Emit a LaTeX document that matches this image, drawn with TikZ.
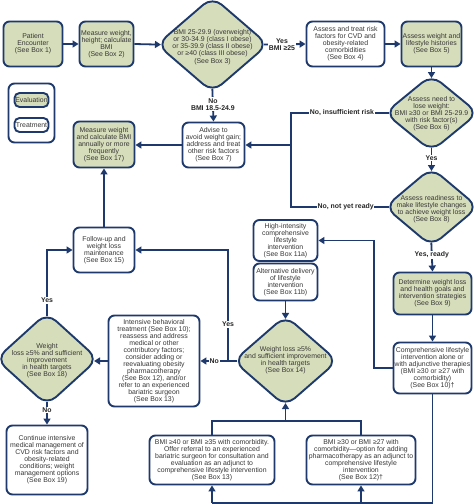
\documentclass[tikz,border=0pt]{standalone}
\usepackage{fontspec}
\setmainfont{Liberation Sans}
\usetikzlibrary{shapes.geometric,arrows.meta,backgrounds}
\definecolor{navy}{RGB}{30,58,108}
\definecolor{boxgreen}{RGB}{214,221,186}
\definecolor{txt}{RGB}{55,55,55}
\tikzset{
  boxbase/.style={draw=navy, line width=1.9pt, text=txt, align=center, inner sep=0pt,
     font=\fontsize{6.9}{7}\selectfont},
  evalbox/.style={boxbase, rectangle, rounded corners=6pt, fill=boxgreen},
  treatbox/.style={boxbase, rectangle, rounded corners=6pt, fill=white},
  decis/.style={boxbase, diamond, rounded corners=12pt, fill=boxgreen},
  dtext/.style={text=txt, align=center, inner sep=0pt, font=\fontsize{6.9}{7}\selectfont},
  conn/.style={draw=navy, line width=1.8pt},
  arr/.style={conn, -{Triangle[width=7pt,length=6pt]}},
  lbl/.style={fill=white, text=black!85, font=\bfseries\fontsize{6.9}{7}\selectfont, inner sep=0.8pt, align=center},
  inS/.style={shorten >=-5.2pt},
  inT/.style={shorten >=-4.5pt},
  outS/.style={shorten <=-5.2pt},
  outT/.style={shorten <=-4.5pt},
}
\begin{document}
\begin{tikzpicture}[x=1pt,y=-1pt]
\useasboundingbox (0,0) rectangle (474,504);
% top row
\node[evalbox, minimum width=59pt, minimum height=45pt] (b1) at (33,44) {Patient\\Encounter\\(See Box 1)};
\node[evalbox, minimum width=54pt, minimum height=45pt] (b2) at (106.5,44) {Measure weight,\\height; calculate\\BMI\\(See Box 2)};
\node[decis, minimum width=111.6pt, minimum height=96.2pt] (d3) at (212.5,44.5) {};
\node[dtext] (d3t) at (212.5,47) {BMI 25-29.9 (overweight)\\or 30-34.9 (class I obese)\\or 35-39.9 (class II obese)\\or ≥40 (class III obese)\\[1.5pt](See Box 3)};
\node[treatbox, minimum width=78pt, minimum height=45pt] (b4) at (345.5,44) {Assess and treat risk\\factors for CVD and\\obesity-related\\comorbidities\\(See Box 4)};
\node[evalbox, minimum width=60pt, minimum height=45pt] (b5) at (431.5,44) {Assess weight and\\lifestyle histories\\(See Box 5)};
% legend
\node[treatbox, minimum width=46pt, minimum height=59pt] (leg) at (31.5,113) {};
\node[evalbox, rounded corners=5pt, minimum width=34pt, minimum height=14pt] (lev) at (31.5,100) {Evaluation};
\node[treatbox, rounded corners=5pt, minimum width=34pt, minimum height=14pt] (ltr) at (31.5,125) {Treatment};
% second row
\node[evalbox, minimum width=61pt, minimum height=46pt] (b17) at (104,144.5) {Measure weight\\and calculate BMI\\annually or more\\frequently\\(See Box 17)};
\node[treatbox, minimum width=62pt, minimum height=45pt] (b7) at (213.5,145) {Advise to\\avoid weight gain;\\address and treat\\other risk factors\\(See Box 7)};
\node[decis, minimum width=93.8pt, minimum height=77pt] (d6) at (431.5,113) {};
\node[dtext] (d6t) at (431.5,114) {Assess need to\\lose weight:\\BMI ≥30 or BMI 25-29.9\\with risk factor(s)\\(See Box 6)};
\node[decis, minimum width=93.8pt, minimum height=79pt] (d8) at (431.5,207) {};
\node[dtext] (d8t) at (431.5,209) {Assess readiness to\\make lifestyle changes\\to achieve weight loss\\(See Box 8)};
% middle
\node[treatbox, minimum width=61pt, minimum height=45pt] (b15) at (104,250) {Follow-up and\\weight loss\\maintenance\\(See Box 15)};
\node[treatbox, minimum width=64pt, minimum height=41pt] (b11a) at (285.5,240.5) {High-intensity\\comprehensive\\lifestyle\\intervention\\(See Box 11a)};
\node[treatbox, minimum width=64pt, minimum height=37pt] (b11b) at (285.5,282) {Alternative delivery\\of lifestyle\\intervention\\(See Box 11b)};
\node[evalbox, minimum width=78pt, minimum height=42pt] (b9) at (432.5,293.5) {Determine weight loss\\and health goals and\\intervention strategies\\(See Box 9)};
\node[decis, minimum width=102.6pt, minimum height=93.2pt] (d18) at (47,359) {};
\node[dtext] (d18t) at (47,361) {Weight\\loss ≥5\% and sufficient\\improvement\\in health targets\\(See Box 18)};
\node[treatbox, minimum width=91pt, minimum height=91pt] (b10) at (154,361) {Intensive behavioral\\treatment (See Box 10);\\reassess and address\\medical or other\\contributory factors;\\consider adding or\\reevaluating obesity\\pharmacotherapy\\(See Box 12), and/or\\refer to an experienced\\bariatric surgeon\\(See Box 13)};
\node[decis, minimum width=104.6pt, minimum height=91.2pt] (d14) at (285.5,361) {};
\node[dtext] (d14t) at (285.5,360) {Weight loss ≥5\%\\and sufficient improvement\\in health targets\\(See Box 14)};
\node[treatbox, minimum width=78pt, minimum height=51pt] (b10d) at (432.5,368) {Comprehensive lifestyle\\intervention alone or\\with adjunctive therapies\\(BMI ≥30 or ≥27 with\\comorbidity)\\(See Box 10)†};
% bottom
\node[treatbox, minimum width=81pt, minimum height=69pt] (b19) at (47,460) {Continue intensive\\medical management of\\CVD risk factors and\\obesity-related\\conditions; weight\\management options\\(See Box 19)};
\node[treatbox, minimum width=125pt, minimum height=49pt] (b13) at (212,460) {BMI ≥40 or BMI ≥35 with comorbidity.\\Offer referral to an experienced\\bariatric surgeon for consultation and\\evaluation as an adjunct to\\comprehensive lifestyle intervention\\(See Box 13)};
\node[treatbox, minimum width=109pt, minimum height=49pt] (b12) at (361,460) {BMI ≥30 or BMI ≥27 with\\comorbidity—option for adding\\pharmacotherapy as an adjunct to\\comprehensive lifestyle\\intervention\\(See Box 12)†};
% junction coordinates
\coordinate (jt) at (291,0);
\coordinate (jr) at (374,0);
\coordinate (jm) at (228,0);
\coordinate (jbot) at (0,502.8);
\coordinate (jup) at (0,421);
\begin{scope}[on background layer]
\fill[white] (0,0) rectangle (474,504);
\draw[arr] (b1.east) -- (b2.west);
\draw[arr, inS] (b2.east) -- (d3.west);
\draw[arr, outS] (d3.east) -- node[lbl, pos=0.35]{Yes\\BMI ≥25} (b4.west);
\draw[arr] (b4.east) -- (b5.west);
\draw[arr, inT] (b5.south) -- (d6.north);
\draw[arr, outT] (d3.south) -- node[lbl, pos=0.38]{No\\BMI 18.5-24.9} (b7.north);
\draw[conn, outS, inS] (d6.west) -- node[lbl, pos=0.45]{No, insufficient risk} (d6.west -| jt) -- (d8.west -| jt) -- node[lbl, pos=0.59]{No, not yet ready} (d8.west);
\draw[arr] (b7.east -| jt) -- (b7.east);
\draw[arr] (b7.west) -- (b7.west -| b17.east);
\draw[arr, outT, inT] (d6.south) -- node[lbl, pos=0.4]{Yes} (d8.north);
\draw[arr, outT] (d8.south) -- node[lbl, pos=0.3]{Yes, ready} (b9.north);
\draw[arr] (b9.south) -- (b10d.north);
\draw[arr] (b10d.west) -- (b10d.west -| jr) -- (b11a.east -| jr) -- (b11a.east);
\draw[arr, inT] (b11b.south) -- (d14.north);
\draw[arr, outS] (d14.west) -- (d14.west -| jm) -- node[lbl]{No} (d14.west -| b10.east);
\draw[arr] (d14.west -| jm) -- node[lbl, pos=0.33]{Yes} (b15.east -| jm) -- (b15.east);
\draw[arr, inS] (b10.west) -- (b10.west -| d18.east);
\draw[arr, outT] (d18.north) -- node[lbl, pos=0.18]{Yes} (b15.west -| d18.north) -- (b15.west);
\draw[arr, outT] (d18.south) -- node[lbl, pos=0.2]{No} (b19.north);
\draw[arr] (b15.north) -- (b17.south);
\draw[conn] (b10d.south) -- (b10d.south |- jbot) -- (b13.south |- jbot);
\draw[arr] (b13.south |- jbot) -- (b13.south);
\draw[arr] (b12.south |- jbot) -- (b12.south);
\draw[conn] (b13.north) -- (b13.north |- jup) -- (b12.north |- jup) -- (b12.north);
\draw[arr, inT] (d14.south |- jup) -- (d14.south);
\end{scope}
\end{tikzpicture}
\end{document}
